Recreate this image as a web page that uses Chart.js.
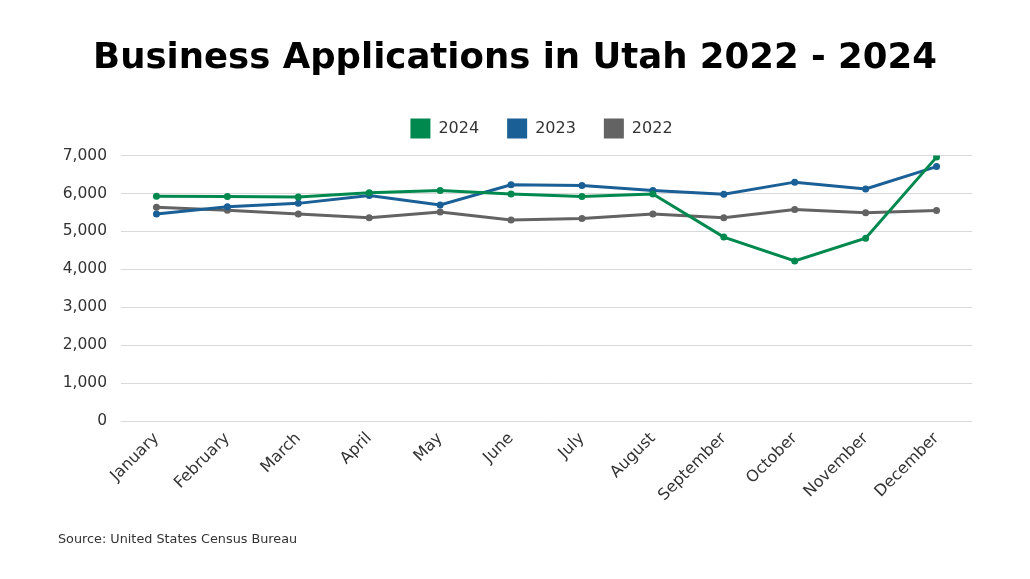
<!DOCTYPE html>
<html>
<head>
<meta charset="utf-8">
<script src="https://cdn.jsdelivr.net/npm/chart.js@4.4.1/dist/chart.umd.min.js"></script>
<style>
  html, body { margin: 0; padding: 0; background: #ffffff; }
  #wrap { position: relative; width: 1030px; height: 579px; }
</style>
</head>
<body>
<div id="wrap"><canvas id="c" width="1030" height="579"></canvas></div>
<script>
const months = ["January","February","March","April","May","June","July","August","September","October","November","December"];
const seriesNames = ["2024","2023","2022"];
const values2024 = [5930, 5920, 5910, 6020, 6080, 5990, 5920, 5990, 4850, 4220, 4820, 6960];
const values2023 = [5460, 5650, 5740, 5950, 5700, 6230, 6210, 6080, 5980, 6300, 6120, 6710];
const values2022 = [5640, 5560, 5460, 5360, 5510, 5300, 5340, 5460, 5360, 5580, 5490, 5550];
const yTicks = [0, 1000, 2000, 3000, 4000, 5000, 6000, 7000];
const colors = ["#00894F", "#1A5F96", "#636363"];
const FONT = "'DejaVu Sans', 'Noto Sans', sans-serif";

const mk = (label, data, color) => ({
  label, data,
  borderColor: color, backgroundColor: color,
  borderWidth: 3, pointRadius: 3.5, pointHoverRadius: 3.5,
  pointBackgroundColor: color, pointBorderColor: color, pointBorderWidth: 0,
  tension: 0
});

const layoutPlugin = {
  id: 'layoutTweaks',
  afterLayout(chart) {
    const lg = chart.legend;
    if (lg) {
      lg.left = chart.chartArea.left - 5;
      lg.right = chart.chartArea.right - 5;
      lg.top -= 7;
      lg.bottom -= 7;
    }
    const tb = chart.titleBlock;
    if (tb) {
      tb.left = 0;
      tb.right = chart.width;
    }
  },
  afterDraw(chart) {
    const ctx = chart.ctx;
    ctx.save();
    ctx.font = "12.8px " + FONT;
    ctx.fillStyle = "#333333";
    ctx.textBaseline = "middle";
    ctx.textAlign = "left";
    ctx.fillText("Source: United States Census Bureau", 58, 540);
    ctx.restore();
  }
};

new Chart(document.getElementById('c'), {
  type: 'line',
  data: {
    labels: months,
    datasets: [
      mk(seriesNames[0], values2024, colors[0]),
      mk(seriesNames[1], values2023, colors[1]),
      mk(seriesNames[2], values2022, colors[2])
    ]
  },
  options: {
    responsive: false,
    animation: false,
    devicePixelRatio: 1,
    layout: { padding: { left: 50, right: 58, top: 22, bottom: 60 } },
    plugins: {
      title: {
        display: true,
        text: "Business Applications in Utah 2022 - 2024",
        color: "#000000",
        font: { family: FONT, size: 35.5, weight: 'bold' },
        padding: { top: 15, bottom: 18 }
      },
      legend: {
        display: true,
        position: 'top',
        labels: {
          boxWidth: 20, boxHeight: 20,
          color: "#333333",
          font: { family: FONT, size: 16 },
          padding: 28,
          generateLabels(chart) {
            const items = Chart.defaults.plugins.legend.labels.generateLabels(chart);
            return items.map(i => Object.assign(i, { lineWidth: 0 }));
          }
        }
      },
      tooltip: { enabled: false }
    },
    scales: {
      x: {
        offset: true,
        grid: { display: false, drawTicks: false },
        border: { display: false },
        ticks: {
          color: "#333333",
          font: { family: FONT, size: 16 },
          maxRotation: 45, minRotation: 45,
          autoSkip: false,
          padding: 8
        },
        afterFit(s) { s.height = 98; }
      },
      y: {
        min: 0, max: 7000,
        afterBuildTicks(s) { s.ticks = yTicks.map(v => ({ value: v })); },
        grid: { color: "#d9d9d9", lineWidth: 1, drawTicks: false },
        border: { display: false },
        ticks: {
          color: "#333333",
          font: { family: FONT, size: 15.5 },
          padding: 14,
          callback: v => v.toLocaleString('en-US')
        },
        afterFit(s) { s.width = 71; }
      }
    }
  },
  plugins: [layoutPlugin]
});
</script>
</body>
</html>
